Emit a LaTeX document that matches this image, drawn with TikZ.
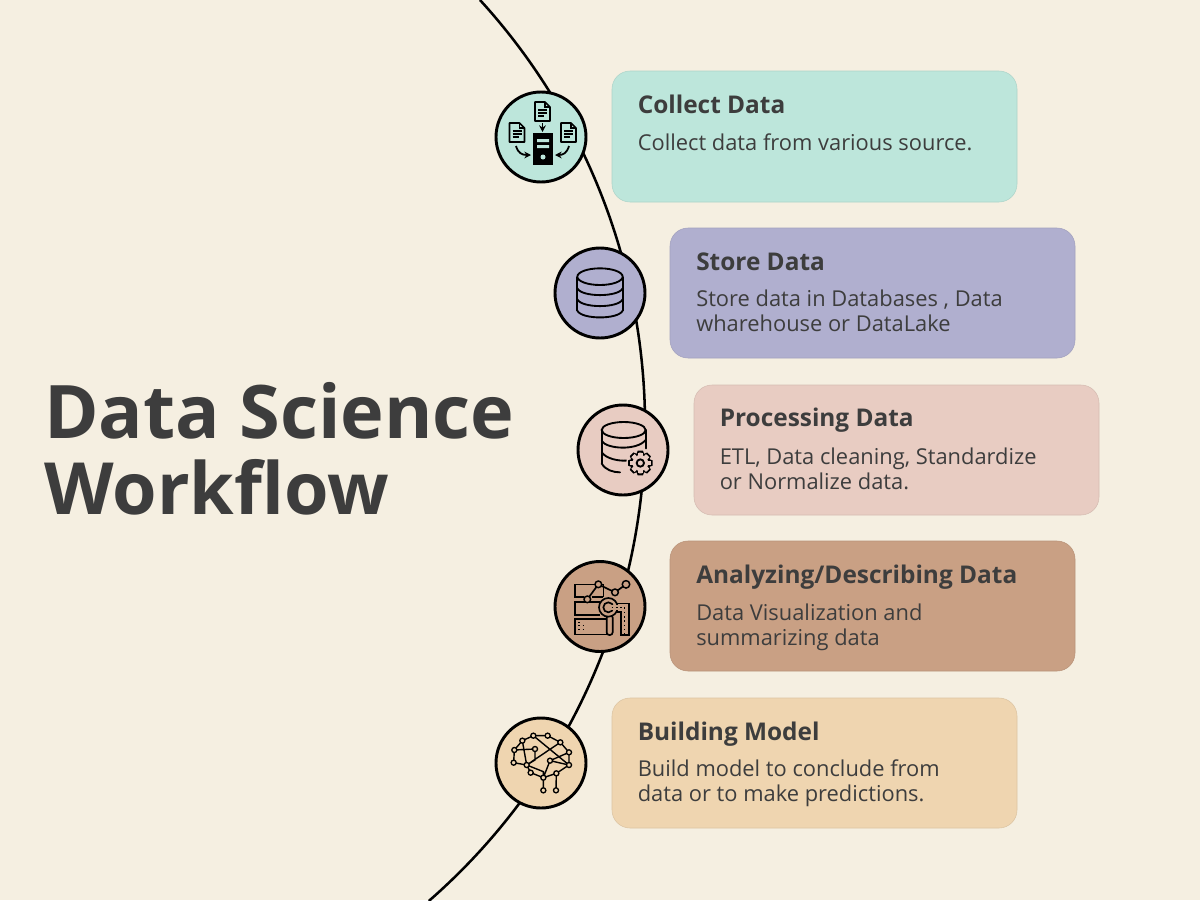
\documentclass[tikz,border=0pt]{standalone}
\usepackage{fontspec}
\usetikzlibrary{arrows.meta}
\setmainfont{Open Sans}
\definecolor{bgc}{HTML}{F5EFE1}
\definecolor{ink}{HTML}{3D3D3D}
\definecolor{cteal}{HTML}{BDE6DB}
\definecolor{cpurple}{HTML}{B0AFCF}
\definecolor{cpink}{HTML}{E8CCC2}
\definecolor{cbrown}{HTML}{C9A084}
\definecolor{ctan}{HTML}{EFD5B0}
\tikzset{
 card/.style={rounded corners=13.5pt,draw=#1!92!black,line width=.4pt,fill=#1},
 badge/.style={circle,draw=black,line width=2.2pt,fill=#1,minimum size=67.5pt,inner sep=0pt},
 ttl/.style={anchor=base west,text=ink,font=\fontsize{18.3pt}{20pt}\selectfont\bfseries,inner sep=0pt},
 bodytext/.style={anchor=base west,text=ink,font=\fontsize{16.4pt}{19.2pt}\selectfont,align=left,inner sep=0pt},
 headline/.style={anchor=base west,text=ink,font=\fontsize{55.4pt}{60pt}\selectfont\bfseries,inner sep=0pt},
 headlineb/.style={anchor=base west,text=ink,font=\fontsize{54pt}{60pt}\selectfont\bfseries,inner sep=0pt},
 ic/.style={line width=1.35pt,draw=black},
 nd/.style={circle,draw=black,line width=1pt,fill=ctan,inner sep=0pt,minimum size=3.8pt},
 ndb/.style={circle,draw=black,line width=1.1pt,fill=cbrown,inner sep=0pt,minimum size=5pt}
}
\newcommand{\docicon}[2]{%
 \begin{scope}[shift={(#1,#2)}]
  \draw[ic,line width=1.15pt,line join=round] (0,0)--(10,0)--(15,5)--(15,19)--(0,19)--cycle;
  \draw[ic,line width=.95pt] (10,0)--(10,5)--(15,5);
  \draw[ic,line width=.95pt] (3,8)--(12,8) (3,11)--(12,11) (3,14)--(9,14);
 \end{scope}}
\begin{document}
\begin{tikzpicture}[x=.75pt,y=-.75pt]
\useasboundingbox (0,0) rectangle (1200,900);
\fill[bgc] (0,0) rectangle (1200,900);
\draw[black,line width=1.9pt] (480,0) arc[start angle=-42.4,end angle=48.9,radius=631];

\draw[card=cteal] (612,71) rectangle (1017,202);
\draw[card=cpurple] (670,228) rectangle (1075,358);
\draw[card=cpink] (694,385) rectangle (1099,515);
\draw[card=cbrown] (670,541) rectangle (1075,671);
\draw[card=ctan] (612,698) rectangle (1017,828);

\node[ttl] (t1) at (637.5,113) {Collect Data};
\node[bodytext] (b1) at (637.5,150) {Collect data from various source.};
\node[ttl] (t2) at (696,270) {Store Data};
\node[bodytext,anchor=north west] (b2) at (696,289.5) {Store data in Databases , Data\\wharehouse or DataLake};
\node[ttl] (t3) at (719.5,426.5) {Processing Data};
\node[bodytext,anchor=north west] (b3) at (719.5,447.5) {ETL, Data cleaning, Standardize\\or Normalize data.};
\node[ttl] (t4) at (696,583) {Analyzing/Describing Data};
\node[bodytext,anchor=north west] (b4) at (696,603.5) {Data Visualization and\\summarizing data};
\node[ttl] (t5) at (637.5,740) {Building Model};
\node[bodytext,anchor=north west] (b5) at (637.5,759) {Build model to conclude from\\data or to make predictions.};

\node[headline] (h1) at (44,438) {Data Science};
\node[headlineb] (h2) at (44,514) {Workflow};

\node[badge=cteal] (c1) at (541,137) {};
\node[badge=cpurple] (c2) at (600,293) {};
\node[badge=cpink] (c3) at (623,450) {};
\node[badge=cbrown] (c4) at (600,606.5) {};
\node[badge=ctan] (c5) at (541,763) {};

% icon 1
\docicon{535}{102}
\docicon{509.5}{123}
\docicon{561}{123}
\fill[black] (533,133) rectangle (553,165);
\fill[cteal] (537,139) rectangle (549,142) (537,145) rectangle (549,148);
\fill[cteal] (543,157) circle[radius=2.5];
\draw[ic,-{Stealth[length=5pt,width=5pt]}] (542.5,123)--(542.5,132);
\draw[ic,-{Stealth[length=5pt,width=5pt]}] (516,146) .. controls (518,153) and (522,155) .. (531,155);
\draw[ic,-{Stealth[length=5pt,width=5pt]}] (569,146) .. controls (567,153) and (563,155) .. (555,155);

% icon 2
\begin{scope}[shift={(540,240)},x=.25pt,y=-.25pt,line width=1.4pt]
 \draw (180,110) ellipse[x radius=68,y radius=25];
 \draw (112,110)--(112,212) (248,110)--(248,212);
 \draw (112,145) .. controls (125,172) and (235,172) .. (248,145);
 \draw (112,178) .. controls (125,205) and (235,205) .. (248,178);
 \draw (112,212) .. controls (125,239) and (235,239) .. (248,212);
\end{scope}

% icon 3
\begin{scope}[shift={(565,395)},x=.25pt,y=-.25pt,line width=1.4pt,line cap=round]
 \draw (176,105) ellipse[x radius=66,y radius=24];
 \draw (110,105)--(110,205) (242,105)--(242,160);
 \draw (110,138) .. controls (125,162) and (215,168) .. (242,135);
 \draw (110,172) .. controls (125,192) and (160,198) .. (185,197);
 \draw (110,205) .. controls (120,225) and (145,232) .. (165,232);
 \fill[cpink] (226,204) circle[radius=42];
 \foreach \a in {0,45,...,315}
   \draw[rotate around={\a:(226,204)},fill=cpink] (217,178)--(220,170)--(232,170)--(235,178);
 \draw[fill=cpink] (226,204) circle[radius=27];
 \foreach \a in {0,45,...,315}
   \fill[cpink,rotate around={\a:(226,204)}] (219,173) rectangle (233,182);
 \draw (226,204) circle[radius=11];
\end{scope}

% icon 4
\begin{scope}[shift={(545,555)},x=.25pt,y=-.25pt,line width=1.25pt]
 \draw (160,88)--(90,88)--(90,125)--(118,125);
 \draw (172,88)--(175,88)--(175,125) (140,125)--(175,125);
 \draw (165,140)--(90,140)--(90,180)--(165,180);
 \draw (90,192) rectangle (185,238);
 \draw[fill=cbrown,rounded corners=2pt] (185,180) rectangle (203,240);
 \draw (127,133)--(160,88)--(210,112)--(243,88);
 \node[ndb] (g1) at (127,133) {};
 \node[ndb] (g2) at (160,88) {};
 \node[ndb] (g3) at (210,112) {};
 \node[ndb,minimum size=5.6pt] (g4) at (243,88) {};
 \draw[fill=cbrown] (190,145)--(252,145)--(252,240)--(228,240)--(228,170)--(190,170)--cycle;
 \draw[fill=cbrown] (190,157) circle[radius=28];
 \draw[fill=cbrown] (190,157) circle[radius=15];
 \fill[cbrown] (192,149) rectangle (226,165.5);
 \draw[dotted,line width=1.2pt] (200,157)--(238,157)--(238,236);
 \draw[dotted,line width=1.2pt] (100,202)--(112,202) (100,212)--(122,212) (100,224)--(122,224);
\end{scope}

% icon 5
\begin{scope}[shift={(485,710)},x=.25pt,y=-.25pt,line width=1.05pt]
 \coordinate (a1) at (145,77); \coordinate (a2) at (188,77); \coordinate (a3) at (112,92);
 \coordinate (a4) at (226,97); \coordinate (a5) at (88,120); \coordinate (a6) at (150,117);
 \coordinate (a7) at (252,127); \coordinate (a8) at (86,158); \coordinate (a9) at (125,165);
 \coordinate (a10) at (252,165); \coordinate (a11) at (195,152); \coordinate (a12) at (137,188);
 \coordinate (a13) at (175,203); \coordinate (a14) at (214,190); \coordinate (a15) at (175,241);
 \coordinate (a16) at (213,241);
 \draw (a5)--(a3)--(a1)--(a2)--(a4)--(a7)--(a10)--(a14)--(a13)--(a12)--(a9)--(a8)--(a5);
 \draw (a3)--(a9) (a1)--(a10) (a4)--(a9) (a5)--(a6) (a6)--(150,150)--(a9);
 \draw (a11)--(a7) (a11)--(a10) (a11)--(a13) (a13)--(a15) (a14)--(a16) (a9)--(175,185)--(a13);
 \foreach \p in {a1,a2,a3,a4,a5,a6,a7,a8,a9,a10,a11,a12,a13,a14,a15,a16}
  \node[nd] at (\p) {};
\end{scope}
\end{tikzpicture}
\end{document}
